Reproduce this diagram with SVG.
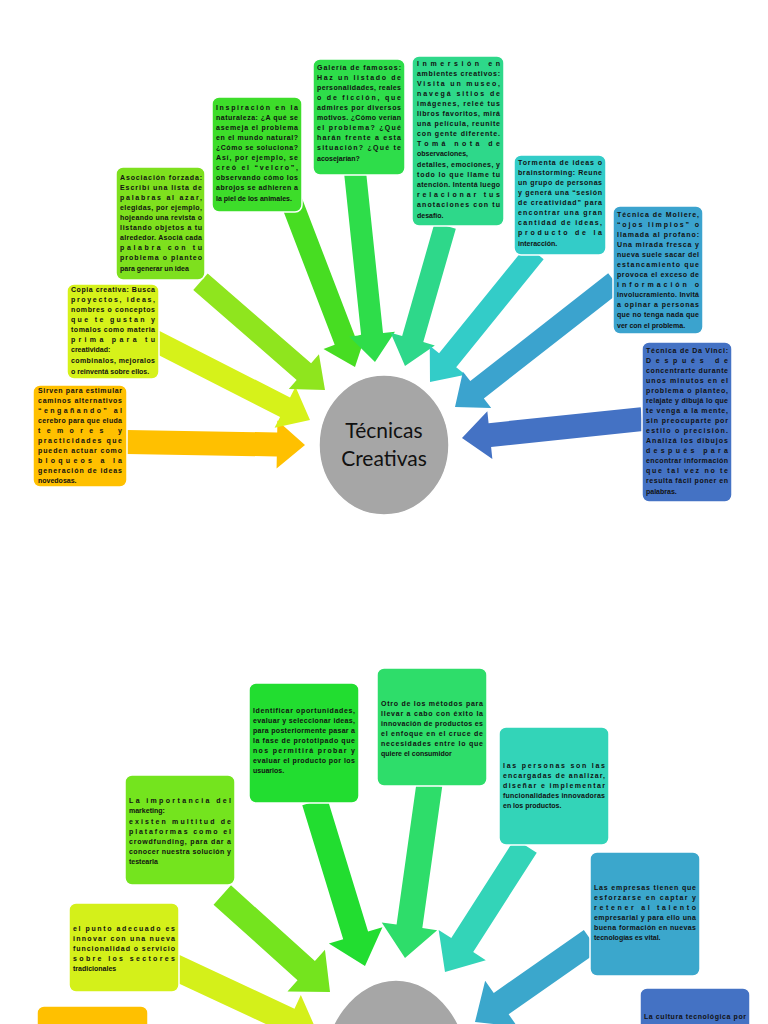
<svg xmlns="http://www.w3.org/2000/svg" width="768" height="1024" viewBox="0 0 768 1024">
<style>
.b{stroke:#fff;stroke-width:1.5}
text{font-family:"Liberation Sans",Arial,sans-serif;font-weight:bold;font-size:7px;fill:#111}
.c{font-family:Lato,"Liberation Sans",sans-serif;font-size:21px;font-weight:normal;fill:#111;text-anchor:middle}
</style>
<rect width="768" height="1024" fill="#fff"/>
<g id="connectors">
<polygon fill="#FFC000" transform="translate(305,445) rotate(1)" points="0,0 -28,-24 -28,-12 -178,-12 -178,12 -28,12 -28,24"/>
<polygon fill="#D6F21A" transform="translate(310,420) rotate(27)" points="0,0 -28,-23 -28,-11 -175,-11 -175,11 -28,11 -28,23"/>
<polygon fill="#8FE51E" transform="translate(325,390) rotate(41)" points="0,0 -28,-23 -28,-11 -165,-11 -165,11 -28,11 -28,23"/>
<polygon fill="#47DD22" transform="translate(355,367) rotate(69)" points="0,0 -28,-23 -28,-11 -220,-11 -220,11 -28,11 -28,23"/>
<polygon fill="#2EDD4A" transform="translate(375,362) rotate(84)" points="0,0 -28,-23 -28,-11 -191,-11 -191,11 -28,11 -28,23"/>
<polygon fill="#2ED88A" transform="translate(405,366) rotate(106)" points="0,0 -28,-23 -28,-11 -146,-11 -146,11 -28,11 -28,23"/>
<polygon fill="#33CCC8" transform="translate(430,382) rotate(129)" points="0,0 -28,-23 -28,-11 -167,-11 -167,11 -28,11 -28,23"/>
<polygon fill="#3BA3CE" transform="translate(455,407) rotate(142)" points="0,0 -28,-23 -28,-11 -203,-11 -203,11 -28,11 -28,23"/>
<polygon fill="#4472C4" transform="translate(462,438) rotate(174)" points="0,0 -28,-24 -28,-12 -181,-12 -181,12 -28,12 -28,24"/>
<polygon fill="#D4F01A" transform="translate(318,1034) rotate(25)" points="0,0 -32,-28 -32,-13 -160,-13 -160,13 -32,13 -32,28"/>
<polygon fill="#74E41E" transform="translate(330,992) rotate(42)" points="0,0 -32,-28 -32,-13 -145,-13 -145,13 -32,13 -32,28"/>
<polygon fill="#22DD30" transform="translate(365,966) rotate(73)" points="0,0 -32,-28 -32,-13 -172,-13 -172,13 -32,13 -32,28"/>
<polygon fill="#2EDD6A" transform="translate(405,958) rotate(98)" points="0,0 -32,-28 -32,-13 -175,-13 -175,13 -32,13 -32,28"/>
<polygon fill="#33D4B8" transform="translate(445,972) rotate(122.6)" points="0,0 -32,-28 -32,-13 -150,-13 -150,13 -32,13 -32,28"/>
<polygon fill="#3BA7CC" transform="translate(475,1022) rotate(145)" points="0,0 -32,-28 -32,-13 -142,-13 -142,13 -32,13 -32,28"/>
</g>
<g id="center1"><ellipse cx="384" cy="445" rx="65" ry="70" fill="#A6A6A6" class="b"/>
<text class="c" x="384" y="438">Técnicas</text><text class="c" x="384" y="466">Creativas</text></g>
<g id="center2"><ellipse cx="396" cy="1080" rx="75" ry="100" fill="#A6A6A6" class="b"/></g>

<g id="n1"><rect class="b" x="33" y="385" width="94" height="102" rx="7" fill="#FFC000"/>
<text x="38" y="393" textLength="84" lengthAdjust="spacing">Sirven para estimular</text>
<text x="38" y="403" textLength="84" lengthAdjust="spacing">caminos alternativos</text>
<text x="38" y="413" textLength="84" lengthAdjust="spacing">“engañando” al</text>
<text x="38" y="423" textLength="84" lengthAdjust="spacing">cerebro para que eluda</text>
<text x="38" y="433" textLength="84" lengthAdjust="spacing">temores y</text>
<text x="38" y="443" textLength="84" lengthAdjust="spacing">practicidades que</text>
<text x="38" y="453" textLength="84" lengthAdjust="spacing">pueden actuar como</text>
<text x="38" y="463" textLength="84" lengthAdjust="spacing">bloqueos a la</text>
<text x="38" y="473" textLength="84" lengthAdjust="spacing">generación de ideas</text>
<text x="38" y="483">novedosas.</text></g>

<g id="n2"><rect class="b" x="67" y="284" width="92" height="95" rx="7" fill="#D6F21A"/>
<text x="71" y="292" textLength="84" lengthAdjust="spacing">Copia creativa: Busca</text>
<text x="71" y="302" textLength="84" lengthAdjust="spacing">proyectos, ideas,</text>
<text x="71" y="312" textLength="84" lengthAdjust="spacing">nombres o conceptos</text>
<text x="71" y="322" textLength="84" lengthAdjust="spacing">que te gustan y</text>
<text x="71" y="332" textLength="84" lengthAdjust="spacing">tomalos como materia</text>
<text x="71" y="342" textLength="84" lengthAdjust="spacing">prima para tu</text>
<text x="71" y="352">creatividad:</text>
<text x="71" y="363" textLength="84" lengthAdjust="spacing">combinalos, mejoralos</text>
<text x="71" y="374">o reinventá sobre ellos.</text></g>

<g id="n3"><rect class="b" x="116" y="167" width="89" height="113" rx="7" fill="#7EE01E"/>
<text x="120" y="180" textLength="82" lengthAdjust="spacing">Asociación forzada:</text>
<text x="120" y="190" textLength="82" lengthAdjust="spacing">Escribí una lista de</text>
<text x="120" y="200" textLength="82" lengthAdjust="spacing">palabras al azar,</text>
<text x="120" y="210" textLength="82" lengthAdjust="spacing">elegidas, por ejemplo,</text>
<text x="120" y="220" textLength="82" lengthAdjust="spacing">hojeando una revista o</text>
<text x="120" y="230" textLength="82" lengthAdjust="spacing">listando objetos a tu</text>
<text x="120" y="240" textLength="82" lengthAdjust="spacing">alrededor. Asociá cada</text>
<text x="120" y="250" textLength="82" lengthAdjust="spacing">palabra con tu</text>
<text x="120" y="260" textLength="82" lengthAdjust="spacing">problema o planteo</text>
<text x="120" y="271">para generar un idea</text></g>

<g id="n4"><rect class="b" x="212" y="97" width="90" height="115" rx="7" fill="#3DDD2A"/>
<text x="216" y="110" textLength="82" lengthAdjust="spacing">Inspiración en la</text>
<text x="216" y="120" textLength="82" lengthAdjust="spacing">naturaleza: ¿A qué se</text>
<text x="216" y="130" textLength="82" lengthAdjust="spacing">asemeja el problema</text>
<text x="216" y="140" textLength="82" lengthAdjust="spacing">en el mundo natural?</text>
<text x="216" y="150" textLength="82" lengthAdjust="spacing">¿Cómo se soluciona?</text>
<text x="216" y="160" textLength="82" lengthAdjust="spacing">Así, por ejemplo, se</text>
<text x="216" y="170" textLength="82" lengthAdjust="spacing">creó el “velcro”,</text>
<text x="216" y="180" textLength="82" lengthAdjust="spacing">observando cómo los</text>
<text x="216" y="190" textLength="82" lengthAdjust="spacing">abrojos se adhieren a</text>
<text x="216" y="201">la piel de los animales.</text></g>

<g id="n5"><rect class="b" x="313" y="59" width="92" height="116" rx="7" fill="#2EDD4A"/>
<text x="317" y="70" textLength="84" lengthAdjust="spacing">Galería de famosos:</text>
<text x="317" y="80" textLength="84" lengthAdjust="spacing">Haz un listado de</text>
<text x="317" y="90" textLength="84" lengthAdjust="spacing">personalidades, reales</text>
<text x="317" y="100" textLength="84" lengthAdjust="spacing">o de ficción, que</text>
<text x="317" y="110" textLength="84" lengthAdjust="spacing">admires por diversos</text>
<text x="317" y="120" textLength="84" lengthAdjust="spacing">motivos. ¿Cómo verían</text>
<text x="317" y="130" textLength="84" lengthAdjust="spacing">el problema? ¿Qué</text>
<text x="317" y="140" textLength="84" lengthAdjust="spacing">harán frente a esta</text>
<text x="317" y="150" textLength="84" lengthAdjust="spacing">situación? ¿Qué te</text>
<text x="317" y="161">acosejarían?</text></g>

<g id="n6"><rect class="b" x="412" y="56" width="92" height="170" rx="7" fill="#2ED88A"/>
<text x="417" y="66" textLength="83" lengthAdjust="spacing">Inmersión en</text>
<text x="417" y="76" textLength="83" lengthAdjust="spacing">ambientes creativos:</text>
<text x="417" y="86" textLength="83" lengthAdjust="spacing">Visita un museo,</text>
<text x="417" y="96" textLength="83" lengthAdjust="spacing">navegá sitios de</text>
<text x="417" y="106" textLength="83" lengthAdjust="spacing">imágenes, releé tus</text>
<text x="417" y="116" textLength="83" lengthAdjust="spacing">libros favoritos, mirá</text>
<text x="417" y="126" textLength="83" lengthAdjust="spacing">una película, reunite</text>
<text x="417" y="136" textLength="83" lengthAdjust="spacing">con gente diferente.</text>
<text x="417" y="146" textLength="83" lengthAdjust="spacing">Tomá nota de</text>
<text x="417" y="156">observaciones,</text>
<text x="417" y="167" textLength="83" lengthAdjust="spacing">detalles, emociones, y</text>
<text x="417" y="177" textLength="83" lengthAdjust="spacing">todo lo que llame tu</text>
<text x="417" y="187" textLength="83" lengthAdjust="spacing">atención. Intentá luego</text>
<text x="417" y="197" textLength="83" lengthAdjust="spacing">relacionar tus</text>
<text x="417" y="207" textLength="83" lengthAdjust="spacing">anotaciones con tu</text>
<text x="417" y="218">desafío.</text></g>

<g id="n7"><rect class="b" x="514" y="155" width="92" height="100" rx="7" fill="#33CCC8"/>
<text x="518" y="165" textLength="84" lengthAdjust="spacing">Tormenta de ideas o</text>
<text x="518" y="175" textLength="84" lengthAdjust="spacing">brainstorming: Reune</text>
<text x="518" y="185" textLength="84" lengthAdjust="spacing">un grupo de personas</text>
<text x="518" y="195" textLength="84" lengthAdjust="spacing">y generá una “sesión</text>
<text x="518" y="205" textLength="84" lengthAdjust="spacing">de creatividad” para</text>
<text x="518" y="215" textLength="84" lengthAdjust="spacing">encontrar una gran</text>
<text x="518" y="225" textLength="84" lengthAdjust="spacing">cantidad de ideas,</text>
<text x="518" y="235" textLength="84" lengthAdjust="spacing">producto de la</text>
<text x="518" y="246">interacción.</text></g>

<g id="n8"><rect class="b" x="613" y="206" width="90" height="128" rx="7" fill="#3BA3CE"/>
<text x="617" y="217" textLength="82" lengthAdjust="spacing">Técnica de Moliere,</text>
<text x="617" y="227" textLength="82" lengthAdjust="spacing">“ojos limpios” o</text>
<text x="617" y="237" textLength="82" lengthAdjust="spacing">llamada al profano:</text>
<text x="617" y="247" textLength="82" lengthAdjust="spacing">Una mirada fresca y</text>
<text x="617" y="257" textLength="82" lengthAdjust="spacing">nueva suele sacar del</text>
<text x="617" y="267" textLength="82" lengthAdjust="spacing">estancamiento que</text>
<text x="617" y="277" textLength="82" lengthAdjust="spacing">provoca el exceso de</text>
<text x="617" y="287" textLength="82" lengthAdjust="spacing">información o</text>
<text x="617" y="297" textLength="82" lengthAdjust="spacing">involucramiento. Invitá</text>
<text x="617" y="307" textLength="82" lengthAdjust="spacing">a opinar a personas</text>
<text x="617" y="317" textLength="82" lengthAdjust="spacing">que no tenga nada que</text>
<text x="617" y="328">ver con el problema.</text></g>

<g id="n9"><rect class="b" x="642" y="342" width="90" height="160" rx="7" fill="#4472C4"/>
<text x="646" y="353" textLength="82" lengthAdjust="spacing">Técnica de Da Vinci:</text>
<text x="646" y="363" textLength="82" lengthAdjust="spacing">Después de</text>
<text x="646" y="373" textLength="82" lengthAdjust="spacing">concentrarte durante</text>
<text x="646" y="383" textLength="82" lengthAdjust="spacing">unos minutos en el</text>
<text x="646" y="393" textLength="82" lengthAdjust="spacing">problema o planteo,</text>
<text x="646" y="403" textLength="82" lengthAdjust="spacing">relajate y dibujá lo que</text>
<text x="646" y="413" textLength="82" lengthAdjust="spacing">te venga a la mente,</text>
<text x="646" y="423" textLength="82" lengthAdjust="spacing">sin preocuparte por</text>
<text x="646" y="433" textLength="82" lengthAdjust="spacing">estilo o precisión.</text>
<text x="646" y="443" textLength="82" lengthAdjust="spacing">Analizá los dibujos</text>
<text x="646" y="453" textLength="82" lengthAdjust="spacing">después para</text>
<text x="646" y="463" textLength="82" lengthAdjust="spacing">encontrar información</text>
<text x="646" y="473" textLength="82" lengthAdjust="spacing">que tal vez no te</text>
<text x="646" y="483" textLength="82" lengthAdjust="spacing">resulta fácil poner en</text>
<text x="646" y="494">palabras.</text></g>

<g id="m1"><rect class="b" x="37" y="1006" width="111" height="40" rx="7" fill="#FFC000"/></g>

<g id="m2"><rect class="b" x="69" y="903" width="110" height="89" rx="7" fill="#D4F01A"/>
<text x="73" y="931" textLength="102" lengthAdjust="spacing">el punto adecuado es</text>
<text x="73" y="941" textLength="102" lengthAdjust="spacing">innovar con una nueva</text>
<text x="73" y="951" textLength="102" lengthAdjust="spacing">funcionalidad o servicio</text>
<text x="73" y="961" textLength="102" lengthAdjust="spacing">sobre los sectores</text>
<text x="73" y="971">tradicionales</text></g>

<g id="m3"><rect class="b" x="125" y="775" width="110" height="110" rx="7" fill="#74E41E"/>
<text x="129" y="803" textLength="102" lengthAdjust="spacing">    La importancia del</text>
<text x="129" y="813">marketing:</text>
<text x="129" y="824" textLength="102" lengthAdjust="spacing">existen multitud de</text>
<text x="129" y="834" textLength="102" lengthAdjust="spacing">plataformas como el</text>
<text x="129" y="844" textLength="102" lengthAdjust="spacing">crowdfunding, para dar a</text>
<text x="129" y="854" textLength="102" lengthAdjust="spacing">conocer nuestra solución y</text>
<text x="129" y="864">testearla</text></g>

<g id="m4"><rect class="b" x="249" y="683" width="110" height="120" rx="7" fill="#22DD30"/>
<text x="253" y="713" textLength="102" lengthAdjust="spacing">Identificar oportunidades,</text>
<text x="253" y="723" textLength="102" lengthAdjust="spacing">evaluar y seleccionar ideas,</text>
<text x="253" y="733" textLength="102" lengthAdjust="spacing">para posteriormente pasar a</text>
<text x="253" y="743" textLength="102" lengthAdjust="spacing">la fase de prototipado que</text>
<text x="253" y="753" textLength="102" lengthAdjust="spacing">nos permitirá probar y</text>
<text x="253" y="763" textLength="102" lengthAdjust="spacing">evaluar el producto por los</text>
<text x="253" y="773">usuarios.</text></g>

<g id="m5"><rect class="b" x="377" y="668" width="110" height="118" rx="7" fill="#2EDD6A"/>
<text x="381" y="706" textLength="102" lengthAdjust="spacing">Otro de los métodos para</text>
<text x="381" y="716" textLength="102" lengthAdjust="spacing">llevar a cabo con éxito la</text>
<text x="381" y="726" textLength="102" lengthAdjust="spacing">innovación de productos es</text>
<text x="381" y="736" textLength="102" lengthAdjust="spacing">el enfoque en el cruce de</text>
<text x="381" y="746" textLength="102" lengthAdjust="spacing">necesidades entre lo que</text>
<text x="381" y="756">quiere el consumidor</text></g>

<g id="m6"><rect class="b" x="499" y="727" width="110" height="118" rx="7" fill="#33D4B8"/>
<text x="503" y="768" textLength="102" lengthAdjust="spacing">las personas son las</text>
<text x="503" y="778" textLength="102" lengthAdjust="spacing">encargadas de analizar,</text>
<text x="503" y="788" textLength="102" lengthAdjust="spacing">diseñar e implementar</text>
<text x="503" y="798" textLength="102" lengthAdjust="spacing">funcionalidades innovadoras</text>
<text x="503" y="808">en los productos.</text></g>

<g id="m7"><rect class="b" x="590" y="852" width="110" height="124" rx="7" fill="#3BA7CC"/>
<text x="594" y="890" textLength="102" lengthAdjust="spacing">Las empresas tienen que</text>
<text x="594" y="900" textLength="102" lengthAdjust="spacing">esforzarse en captar y</text>
<text x="594" y="910" textLength="102" lengthAdjust="spacing">retener al talento</text>
<text x="594" y="920" textLength="102" lengthAdjust="spacing">empresarial y para ello una</text>
<text x="594" y="930" textLength="102" lengthAdjust="spacing">buena formación en nuevas</text>
<text x="594" y="940">tecnologías es vital.</text></g>

<g id="m8"><rect class="b" x="640" y="988" width="110" height="60" rx="7" fill="#4472C4"/>
<text x="644" y="1019" textLength="102" lengthAdjust="spacing">La cultura tecnológica por</text></g>
</svg>
